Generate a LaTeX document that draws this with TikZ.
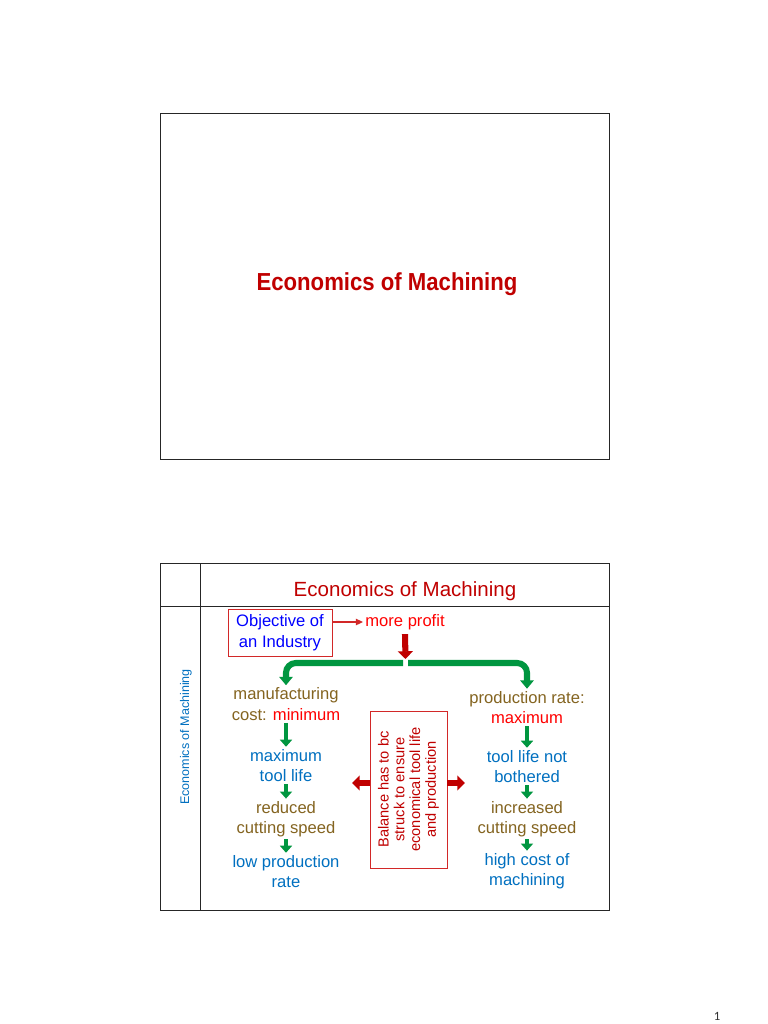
\documentclass[tikz,border=0pt]{standalone}
\usepackage{fontspec}
\setmainfont{Liberation Sans}
\newfontfamily\narrowfont{Liberation Sans}[FakeStretch=0.9]
\newfontfamily\pagefont{Carlito}
\usetikzlibrary{positioning,arrows.meta,calc}
\definecolor{titlered}{RGB}{192,0,0}
\definecolor{hotred}{RGB}{255,0,0}
\definecolor{objblue}{RGB}{0,0,255}
\definecolor{txtblue}{RGB}{0,112,192}
\definecolor{txtbrown}{RGB}{132,100,32}
\definecolor{arrgreen}{RGB}{0,150,64}
\definecolor{boxred}{RGB}{210,40,40}

\begin{document}
\begin{tikzpicture}[x=0.025cm,y=-0.025cm,
  slide/.style={draw=black!85,line width=0.7pt},
  body/.style={font=\fontsize{11.8}{14.6}\selectfont,align=center,inner sep=1.5pt},
  brn/.style={body,text=txtbrown},
  blu/.style={body,text=txtblue},
  garrow/.style={draw=arrgreen,line width=3.5pt,-{Triangle[width=8.5pt,length=5pt]}},
  gbrack/.style={draw=arrgreen,line width=4.3pt,rounded corners=7pt,-{Triangle[width=9.5pt,length=6pt]}},
  rarrow/.style={draw=titlered,line width=4.3pt,-{Triangle[width=10.5pt,length=5.5pt]}}]
  \fill[white] (0,0) rectangle (768,1024);
  \useasboundingbox (0,0) rectangle (768,1024);

  % first slide
  \draw[slide] (160,113) rectangle (609,459);
  \node[text=titlered,font=\narrowfont\bfseries\fontsize{17.5}{20}\selectfont] (title1) at (387,284) {Economics of Machining};

  % second slide
  \draw[slide] (160,563) rectangle (609,910);
  \draw[slide] (200,563) -- (200,910);
  \draw[slide] (160,606) -- (609,606);
  \node[text=titlered,font=\fontsize{14.6}{17}\selectfont] (title2) at (405,591) {Economics of Machining};
  \node[text=txtblue,rotate=90,font=\fontsize{8.9}{10}\selectfont] (side) at (186,737) {Economics of Machining};

  \node[body,text=objblue,draw=boxred,line width=0.6pt,minimum width=2.6cm,minimum height=1.175cm] (obj) at (280,632.5) {Objective of\\an Industry};
  \node[body,text=hotred] (profit) at (405,622) {more profit};
  \draw[boxred,line width=1pt,-{Triangle[width=4.5pt,length=5pt]}] (obj.east |- profit) -- (profit.west);

  \coordinate (split) at (405.5,659);
  \coordinate (barL) at (403,663);
  \coordinate (barR) at (408,663);
  \draw[rarrow] (profit.south) ++(0,2) -- (split);

  % left column
  \node[brn] (mfg) at (286,704) {manufacturing\\cost: \textcolor{hotred}{minimum}};
  \node[blu] (maxtl) at (286,765.5) {maximum\\tool life};
  \node[brn] (redcs) at (286,819) {reduced\\cutting speed};
  \node[blu] (lowpr) at (286,871.5) {low production\\rate};

  % right column
  \node[brn] (prod) at (527,707.5) {production rate:\\\textcolor{hotred}{maximum}};
  \node[blu] (notb) at (527,766.5) {tool life not\\bothered};
  \node[brn] (inccs) at (527,819) {increased\\cutting speed};
  \node[blu] (highc) at (527,871) {high cost of\\machining};

  \draw[gbrack] (barL) -| (mfg.north);
  \draw[gbrack] (barR) -| (prod.north);

  \draw[garrow] (mfg) -- (maxtl);
  \draw[garrow] (maxtl) -- (redcs);
  \draw[garrow] (redcs) -- (lowpr);
  \draw[garrow] (prod) -- (notb);
  \draw[garrow] (notb) -- (inccs);
  \draw[garrow] (inccs) -- (highc);

  % balance box
  \node[draw=boxred,line width=0.6pt,minimum width=1.925cm,minimum height=3.925cm] (balbox) at (408.5,789.5) {};
  \node[text=titlered,rotate=90,align=center,font=\fontsize{10.4}{11.2}\selectfont] (bal) at (balbox) {Balance has to bc\\struck to ensure\\economical tool life\\and production};
  \coordinate (lefttip) at (352,783);
  \coordinate (righttip) at (465,783);
  \draw[rarrow] (balbox.west |- lefttip) -- (lefttip);
  \draw[rarrow] (balbox.east |- righttip) -- (righttip);

  \node[text=black!80,font=\pagefont\fontsize{9}{10}\selectfont] (pnum) at (717,1016) {1};
\end{tikzpicture}
\end{document}
